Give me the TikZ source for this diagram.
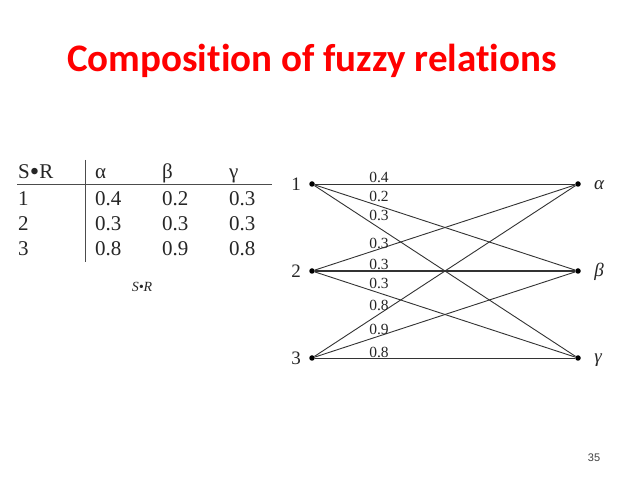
\documentclass[tikz,border=0pt]{standalone}
\usepackage{fontspec}
\setmainfont{Liberation Serif}
\newfontfamily\titlefont[Ligatures=NoCommon]{Carlito}
\newfontfamily\pagefont{Liberation Sans}
\begin{document}
\begin{tikzpicture}[x=1pt,y=-1pt,
  tabtext/.style={anchor=base west,inner sep=0pt,font=\fontsize{21}{23}\selectfont,text=black!85},
  vdot/.style={circle,fill=black,inner sep=0pt,minimum size=5.5pt},
  vlabel/.style={inner sep=0pt,font=\fontsize{19}{21}\selectfont,text=black!85},
  elabel/.style={inner sep=0pt,font=\fontsize{15.5}{17}\selectfont,text=black!85},
  edge/.style={draw=black!80,line width=0.9pt},
  rule/.style={draw=black!70,line width=1pt}]
\useasboundingbox[fill=white] (0,0) rectangle (638,478);
% title
\node[font=\titlefont\bfseries\fontsize{39}{43}\selectfont,text={rgb,255:red,255;green,0;blue,0},anchor=base] (title) at (312,72) {Composition of fuzzy relations};
% page number
\node[font=\pagefont\fontsize{11}{12}\selectfont,text=black!75] (pnum) at (594,458) {35};
% table
\node[tabtext] (h0) at (18,179) {S\raisebox{-1.2pt}{\fontsize{27}{27}\selectfont•}R};
\node[tabtext] (h1) at (95,179) {α};
\node[tabtext] (h2) at (162,179) {β};
\node[tabtext] (h3) at (229,179) {γ};
\node[tabtext] (r1) at (18,206) {1};
\node[tabtext] (a11) at (95,206) {0.4};
\node[tabtext] (a12) at (162,206) {0.2};
\node[tabtext] (a13) at (229,206) {0.3};
\node[tabtext] (r2) at (18,231) {2};
\node[tabtext] (a21) at (95,231) {0.3};
\node[tabtext] (a22) at (162,231) {0.3};
\node[tabtext] (a23) at (229,231) {0.3};
\node[tabtext] (r3) at (18,256) {3};
\node[tabtext] (a31) at (95,256) {0.8};
\node[tabtext] (a32) at (162,256) {0.9};
\node[tabtext] (a33) at (229,256) {0.8};
\coordinate (vt) at (85,160);
\coordinate (vb) at (85,262);
\coordinate (hl) at (17,185);
\coordinate (hr) at (272,185);
\draw[rule] (vt) -- (vb);
\draw[rule] (hl) -- (hr);
\node[inner sep=0pt,font=\itshape\fontsize{14}{15}\selectfont,text=black!85] (cap) at (142,287) {S•R};
% graph
\node[vdot] (n1) at (312,184) {};
\node[vdot] (n2) at (312,271) {};
\node[vdot] (n3) at (312,358) {};
\node[vdot] (na) at (578,184) {};
\node[vdot] (nb) at (578,271) {};
\node[vdot] (nc) at (578,358) {};
\node[vlabel] (l1) at (296,184) {1};
\node[vlabel] (l2) at (296,271) {2};
\node[vlabel] (l3) at (296,358) {3};
\node[vlabel] (la) at (599,185) {\itshape α};
\node[vlabel] (lb) at (599,272) {\itshape β};
\node[vlabel] (lc) at (598,360) {\itshape γ};
\draw[edge] (n1) -- (na);
\draw[edge] (n1) -- (nb);
\draw[edge] (n1) -- (nc);
\draw[edge] (n2) -- (na);
\draw[edge,line width=1.4pt] (n2) -- (nb);
\draw[edge] (n2) -- (nc);
\draw[edge] (n3) -- (na);
\draw[edge] (n3) -- (nb);
\draw[edge] (n3) -- (nc);
\node[elabel] (e1a) at (379,177) {0.4};
\node[elabel] (e1b) at (379,196) {0.2};
\node[elabel] (e1c) at (379,215) {0.3};
\node[elabel] (e2a) at (379,243) {0.3};
\node[elabel] (e2b) at (379,264) {0.3};
\node[elabel] (e2c) at (379,283) {0.3};
\node[elabel] (e3a) at (379,305) {0.8};
\node[elabel] (e3b) at (379,329) {0.9};
\node[elabel] (e3c) at (379,352) {0.8};
\end{tikzpicture}
\end{document}
